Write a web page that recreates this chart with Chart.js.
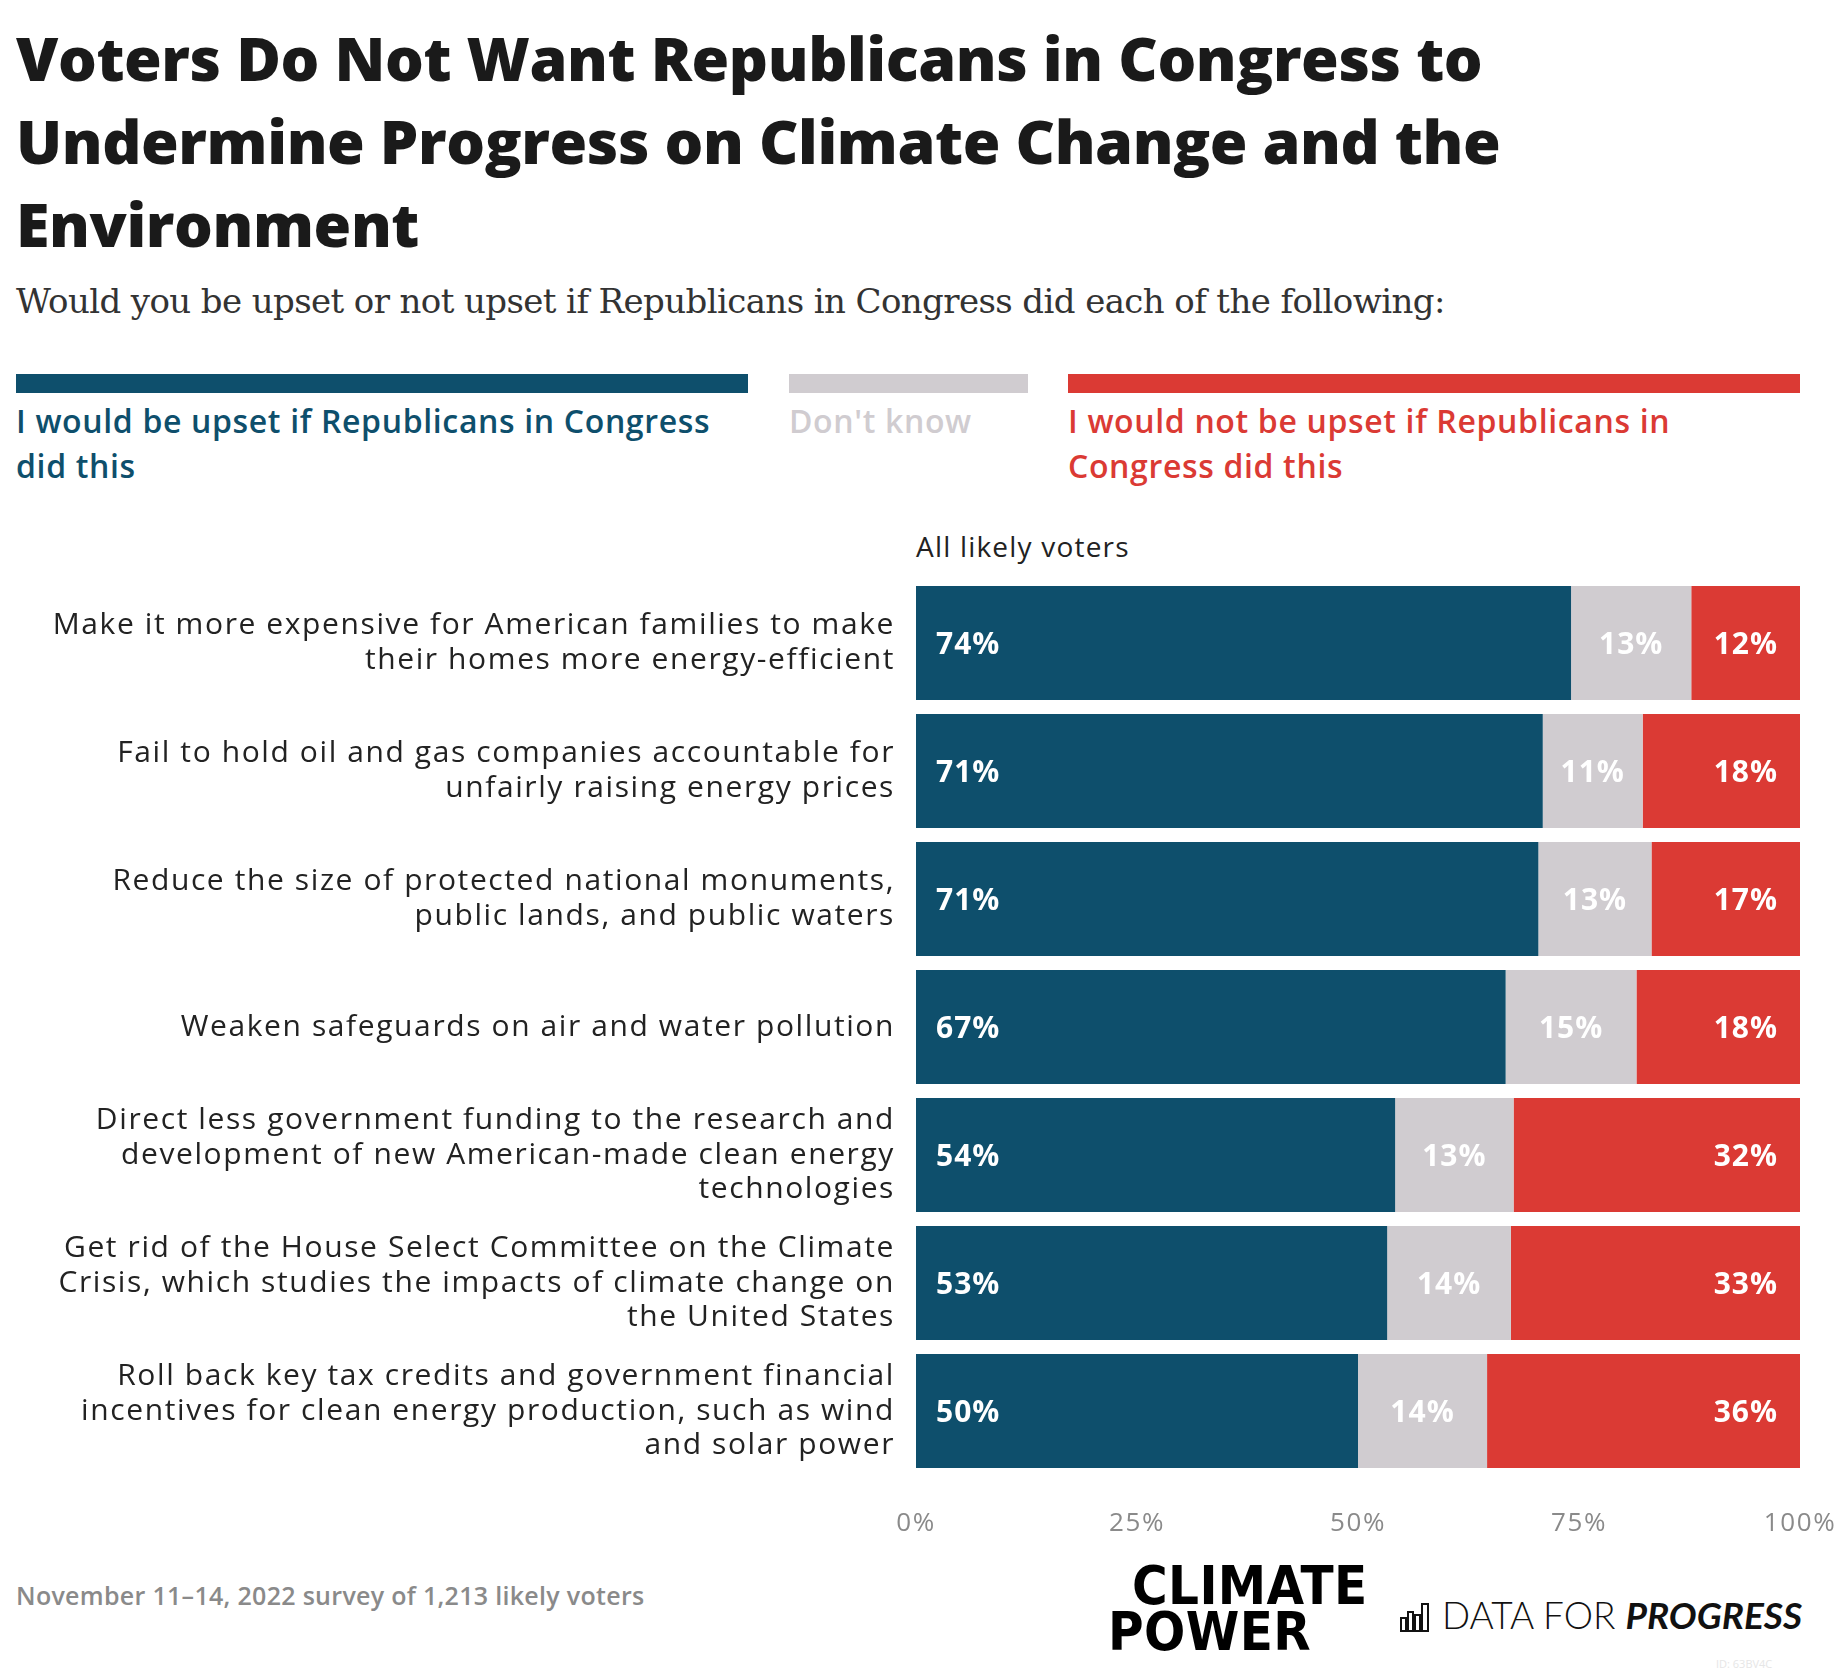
<!DOCTYPE html>
<html>
<head>
<meta charset="utf-8">
<script src="https://cdn.jsdelivr.net/npm/chart.js@4.4.0/dist/chart.umd.min.js"></script>
<style>
  html, body { margin:0; padding:0; background:#fff; }
  body { width:1840px; height:1672px; position:relative; overflow:hidden; font-family:"Open Sans", sans-serif; }
  .abs { position:absolute; white-space:nowrap; }
  #title { left:16px; top:16px; font-weight:800; font-size:61px; line-height:83px; color:#1a1a1a; letter-spacing:-0.4px; }
  #subtitle { left:16px; top:281px; font-family:"DejaVu Serif", serif; font-size:34px; color:#333; letter-spacing:-0.6px; }
  .sw { position:absolute; top:374px; height:19px; }
  .lg { position:absolute; top:398px; font-weight:600; font-size:32px; line-height:45px; letter-spacing:0.65px; }
  #sub2 { left:916px; top:527px; font-size:28px; letter-spacing:1.2px; color:#222; }
  #footnote { left:16px; top:1578px; font-size:25px; font-weight:600; color:#8a8a8a; letter-spacing:0.3px; }
  #cp { left:1108px; top:1563px; font-family:"DejaVu Sans Condensed","DejaVu Sans",sans-serif; font-weight:bold; font-size:54px; line-height:46px; color:#000; letter-spacing:0.4px; }
  #dfp { left:1400px; top:1592px; font-family:"Lato",sans-serif; font-size:37px; color:#111; }
  #chartWrap { position:absolute; left:0; top:500px; width:1840px; height:1050px; }
</style>
</head>
<body>
<div id="title" class="abs">Voters Do Not Want Republicans in Congress to<br>Undermine Progress on Climate Change and the<br>Environment</div>
<div id="subtitle" class="abs">Would you be upset or not upset if Republicans in Congress did each of the following:</div>

<div class="sw" style="left:16px;width:732px;background:#0e4f6c"></div>
<div class="sw" style="left:789px;width:239px;background:#d0ccd0"></div>
<div class="sw" style="left:1068px;width:732px;background:#db3a34"></div>
<div class="lg" style="left:16px;color:#0e4f6c">I would be upset if Republicans in Congress<br>did this</div>
<div class="lg" style="left:789px;color:#d0ccd0">Don't know</div>
<div class="lg" style="left:1068px;color:#db3a34">I would not be upset if Republicans in<br>Congress did this</div>

<div id="sub2" class="abs">All likely voters</div>

<div id="chartWrap"><canvas id="chart" width="1840" height="1050"></canvas></div>

<div id="footnote" class="abs">November 11–14, 2022 survey of 1,213 likely voters</div>
<div id="cp" class="abs"><span style="padding-left:24px">CLIMATE</span><br>POWER</div>
<div id="dfp" class="abs">
  <svg width="30" height="32" viewBox="0 0 30 32" style="vertical-align:-3px;margin-right:12px">
    <g fill="none" stroke="#111" stroke-width="2">
      <rect x="1" y="18" width="5" height="13"/><rect x="8" y="12" width="5" height="19"/>
      <rect x="15" y="15" width="5" height="16"/><rect x="22" y="4" width="6" height="27"/>
    </g>
  </svg><span style="font-weight:300">DATA FOR </span><span style="font-weight:700;font-style:italic">PROGRESS</span>
</div>
<div class="abs" style="left:1716px;top:1656px;font-size:11px;color:#e6e6e6">ID: 63BV4C</div>

<script>
const categories = [
  ['Make it more expensive for American families to make', 'their homes more energy-efficient'],
  ['Fail to hold oil and gas companies accountable for', 'unfairly raising energy prices'],
  ['Reduce the size of protected national monuments,', 'public lands, and public waters'],
  ['Weaken safeguards on air and water pollution'],
  ['Direct less government funding to the research and', 'development of new American-made clean energy', 'technologies'],
  ['Get rid of the House Select Committee on the Climate', 'Crisis, which studies the impacts of climate change on', 'the United States'],
  ['Roll back key tax credits and government financial', 'incentives for clean energy production, such as wind', 'and solar power']
];
// bar lengths (unrounded shares)
const upset = [74.1, 70.9, 70.4, 66.7, 54.2, 53.3, 50.0];
const dontKnow = [13.6, 11.3, 12.8, 14.8, 13.4, 14.0, 14.6];
const notUpset = [12.3, 17.8, 16.8, 18.5, 32.4, 32.7, 35.4];
// printed labels
const upsetLabels = [74, 71, 71, 67, 54, 53, 50];
const dontKnowLabels = [13, 11, 13, 15, 13, 14, 14];
const notUpsetLabels = [12, 18, 17, 18, 32, 33, 36];
const xTicks = [0, 25, 50, 75, 100];

const seriesNames = ['I would be upset if Republicans in Congress did this', "Don't know", 'I would not be upset if Republicans in Congress did this'];
const colors = ['#0e4f6c', '#d0ccd0', '#db3a34'];
const printed = [upsetLabels, dontKnowLabels, notUpsetLabels];

// wider letters to get closer to the original typeface
const spacing = {
  id: 'spacing',
  beforeDraw(chart) { chart.ctx.letterSpacing = '1.6px'; }
};

const barLabels = {
  id: 'barLabels',
  afterDatasetsDraw(chart) {
    const ctx = chart.ctx;
    ctx.save();
    ctx.letterSpacing = '1px';
    ctx.font = 'bold 30px "Open Sans"';
    ctx.fillStyle = '#fff';
    ctx.textBaseline = 'middle';
    chart.data.datasets.forEach((ds, di) => {
      chart.getDatasetMeta(di).data.forEach((bar, i) => {
        const txt = printed[di][i] + '%';
        const y = bar.y + 2;
        if (di === 0) { ctx.textAlign = 'left'; ctx.fillText(txt, bar.base + 20, y); }
        else if (di === 1) { ctx.textAlign = 'center'; ctx.fillText(txt, (bar.base + bar.x) / 2, y); }
        else { ctx.textAlign = 'right'; ctx.fillText(txt, bar.x - 22, y); }
      });
    });
    ctx.restore();
  }
};

new Chart(document.getElementById('chart'), {
  type: 'bar',
  data: {
    labels: categories,
    datasets: [upset, dontKnow, notUpset].map((d, i) => ({
      label: seriesNames[i], data: d, backgroundColor: colors[i], borderWidth: 0,
      barPercentage: 1, categoryPercentage: 0.89
    }))
  },
  options: {
    indexAxis: 'y',
    responsive: false,
    animation: false,
    layout: { padding: { top: 79, right: 40, left: 0, bottom: 0 } },
    plugins: { legend: { display: false }, tooltip: { enabled: false } },
    scales: {
      x: {
        stacked: true, min: 0, max: 100,
        afterBuildTicks: axis => { axis.ticks = xTicks.map(v => ({ value: v })); },
        afterFit: axis => { axis.height = 75; axis.paddingLeft = 0; axis.paddingRight = 0; },
        grid: { display: false, drawTicks: false }, border: { display: false },
        ticks: { padding: 33, color: '#8a8a8a', font: { family: 'Open Sans', size: 26 }, callback: v => v + '%', maxRotation: 0 }
      },
      y: {
        stacked: true,
        afterFit: axis => { axis.width = 916; },
        grid: { display: false, drawTicks: false }, border: { display: false },
        ticks: { padding: 21, color: '#222', font: { family: 'Open Sans', size: 30, lineHeight: 1.15 }, autoSkip: false }
      }
    }
  },
  plugins: [spacing, barLabels]
});
</script>
</body>
</html>
